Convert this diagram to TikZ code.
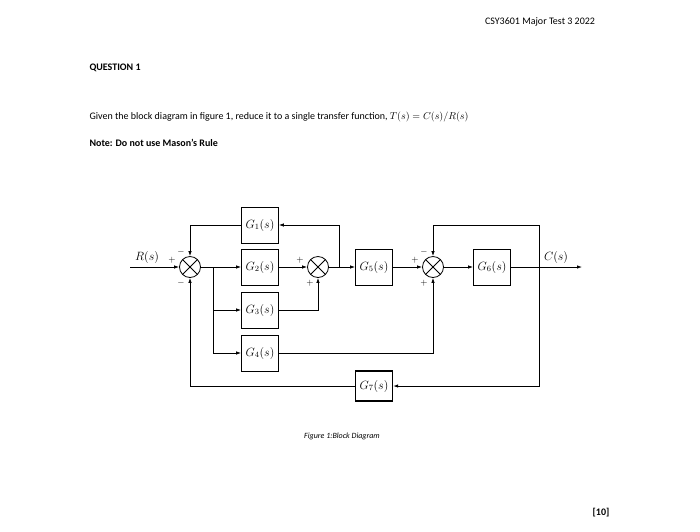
\documentclass[tikz,border=0pt]{standalone}
\usepackage{fontspec}
\setmainfont{Carlito}
\usetikzlibrary{arrows.meta,calc}
\begin{document}
\begin{tikzpicture}[x=1pt,y=-1pt,
 blk/.style={draw,line width=0.8pt,minimum width=37pt,minimum height=36pt,inner sep=0pt,font=\fontsize{12}{14}\selectfont},
 sumj/.style={draw,circle,line width=0.8pt,minimum size=21pt,inner sep=0pt,path picture={\draw (path picture bounding box.north west)--(path picture bounding box.south east) (path picture bounding box.north east)--(path picture bounding box.south west);}},
 sg/.style={font=\small,inner sep=0pt},
 ar/.style={-{Latex[length=5pt,width=3.5pt]},line width=0.8pt},
 ln/.style={line width=0.8pt},
 txt/.style={font=\fontsize{10}{12}\selectfont}]
\useasboundingbox (0,0) rectangle (700,531);
\fill[white] (0,0) rectangle (700,531);
\node[txt] (hdr) at (540,22) {CSY3601 Major Test 3 2022};
\node[txt,font=\fontsize{10}{12}\selectfont\bfseries,anchor=west] (q) at (86,68) {QUESTION 1};
\node[txt,anchor=west] (g) at (86,117) {Given the block diagram in figure 1, reduce it to a single transfer function, $T(s)=C(s)/R(s)$};
\node[txt,font=\fontsize{10}{12}\selectfont\bfseries,anchor=west] (n) at (86,143) {Note: Do not use Mason's Rule};
\node[font=\footnotesize\itshape] (cap) at (342,436) {Figure 1:Block Diagram};
\node[txt,font=\fontsize{10}{12}\selectfont\bfseries] (pts) at (601,513) {[10]};
% blocks
\node[sumj] (s1) at (190,267) {};
\node[sumj] (s2) at (318,267) {};
\node[sumj] (s3) at (433,267) {};
\node[blk] (g1) at (260,225) {$G_1(s)$};
\node[blk] (g2) at (260,267) {$G_2(s)$};
\node[blk] (g3) at (260,310) {$G_3(s)$};
\node[blk] (g4) at (260,353) {$G_4(s)$};
\node[blk] (g5) at (374,267) {$G_5(s)$};
\node[blk] (g6) at (492,267) {$G_6(s)$};
\node[blk,minimum height=30pt,line width=1.4pt] (g7) at (374,386) {$G_7(s)$};
\coordinate (in) at (130,267);
\coordinate (out) at (582,267);
\coordinate (b1) at (213,267);
\coordinate (t2) at (339,267);
\coordinate (t6) at (539,267);
\node[font=\fontsize{12}{14}\selectfont] (rl) at (147,257) {$R(s)$};
\node[font=\fontsize{12}{14}\selectfont] (cl) at (556,257) {$C(s)$};
\draw[ar] (in) -- (s1);
\draw[ln] (s1) -- (b1);
\draw[ar] (b1) -- (g2);
\draw[ar] (b1) |- (g3);
\draw[ar] (b1) |- (g4);
\draw[ar] (g2) -- (s2);
\draw[ar] (g3) -| (s2);
\draw[ar] (s2) -- (g5);
\draw[ar] (t2) |- (g1);
\draw[ar] (g1) -| (s1);
\draw[ar] (g5) -- (s3);
\draw[ar] (g4) -| (s3);
\draw[ar] (s3) -- (g6);
\draw[ar] (g6) -- (out);
\draw[ar] (t6) |- ($(s3)+(0,-42)$) -- (s3);
\draw[ar] (t6) |- (g7);
\draw[ar] (g7) -| (s1);
% signs
\node[sg] at (172,260) {$+$};
\node[sg] at (181,252) {$-$};
\node[sg] at (181,283) {$-$};
\node[sg] at (300,260) {$+$};
\node[sg] at (310,283) {$+$};
\node[sg] at (415,260) {$+$};
\node[sg] at (424,252) {$-$};
\node[sg] at (424,283) {$+$};
\end{tikzpicture}
\end{document}
